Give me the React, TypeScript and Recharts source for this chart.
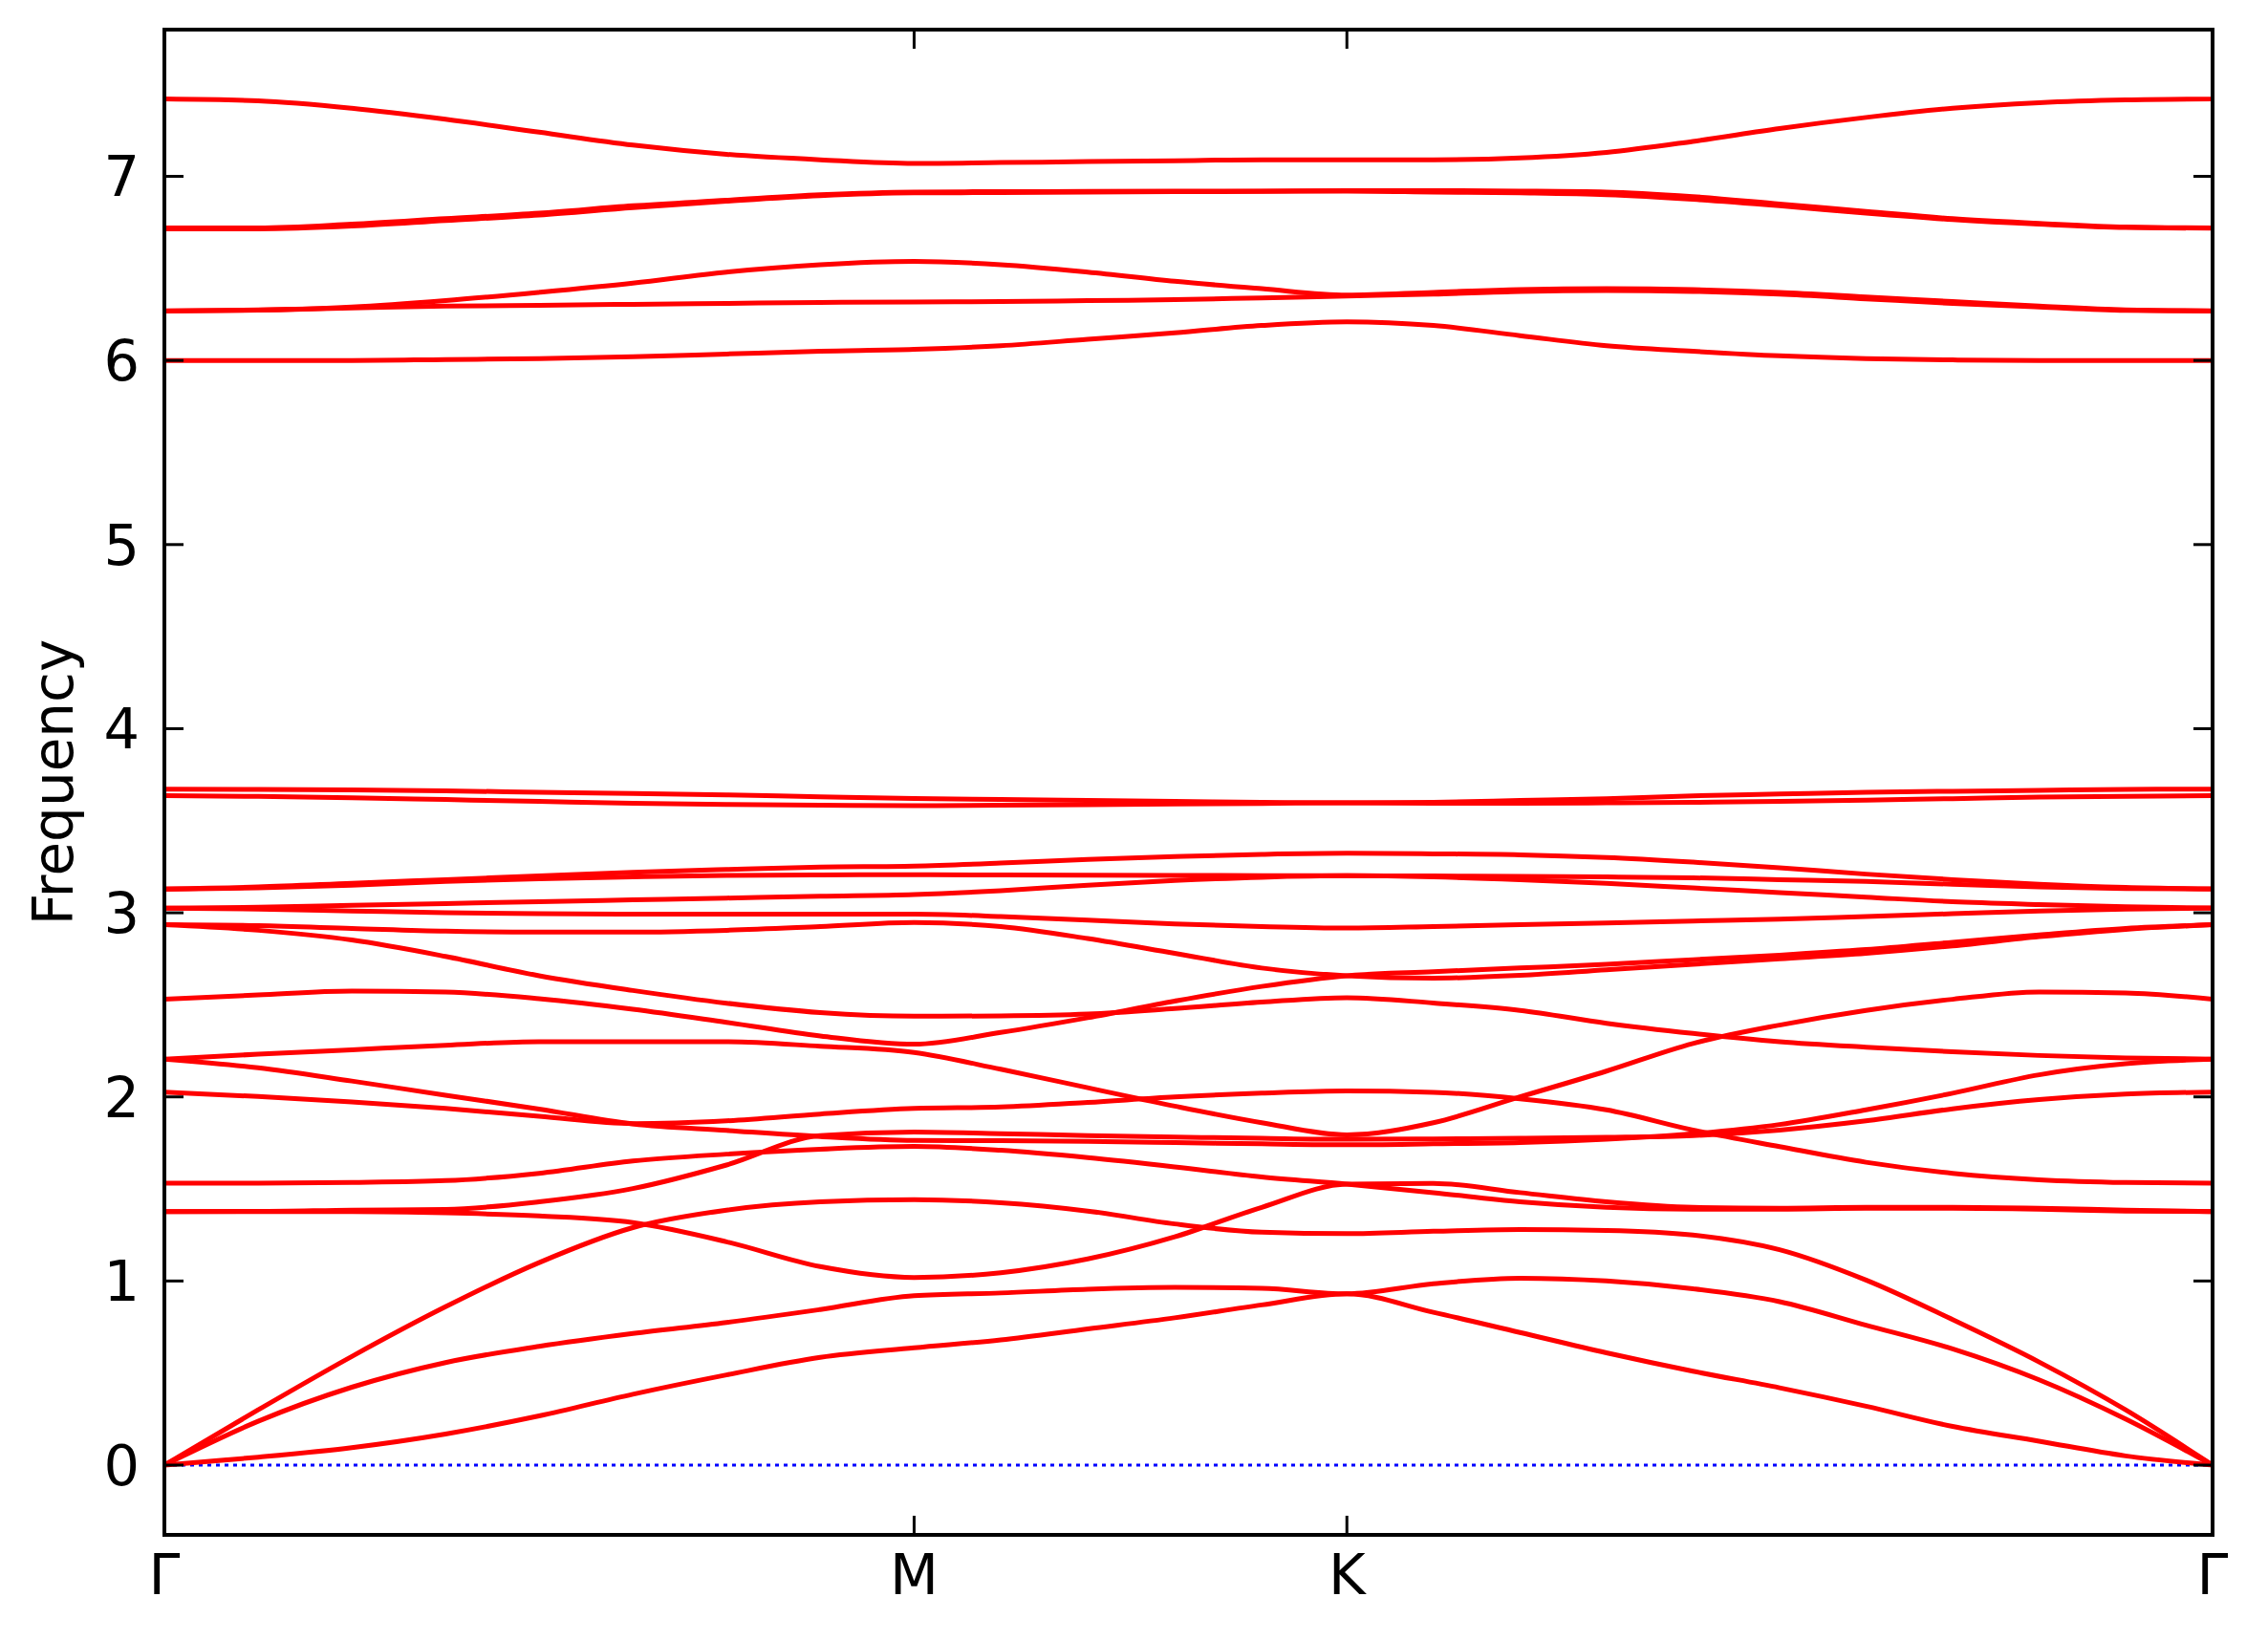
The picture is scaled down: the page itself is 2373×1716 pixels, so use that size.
import { Line, LineChart, ReferenceLine, XAxis, YAxis } from "recharts"

// distance along the Γ–M–K–Γ path
const kDist = [
  0, 0.0722, 0.1443, 0.2165, 0.2886, 0.3608, 0.4329, 0.5051, 0.5774,
  0.6441, 0.7111, 0.7781, 0.8451, 0.9107,
  0.9773, 1.044, 1.1106, 1.1772, 1.2439, 1.3105, 1.3772, 1.4438, 1.5104, 1.5774,
]
const kTicks = [0, 0.5774, 0.9107, 1.5774]
const kLabels = ["Γ", "M", "K", "Γ"]
const freqTicks = [0, 1, 2, 3, 4, 5, 6, 7]

// acoustic branches
const band01 = [0, 0.043, 0.095, 0.169, 0.267, 0.385, 0.49, 0.585, 0.637, 0.68, 0.74, 0.8, 0.87, 0.93, 0.83, 0.72, 0.61, 0.51, 0.42, 0.32, 0.21, 0.13, 0.05, 0]
const band02 = [0, 0.238, 0.423, 0.557, 0.645, 0.715, 0.775, 0.845, 0.92, 0.935, 0.955, 0.965, 0.96, 0.93, 0.985, 1.015, 1.0, 0.958, 0.888, 0.76, 0.631, 0.463, 0.25, 0]
const band03 = [0, 0.3, 0.59, 0.86, 1.1, 1.29, 1.385, 1.43, 1.442, 1.425, 1.38, 1.31, 1.265, 1.257, 1.27, 1.28, 1.275, 1.25, 1.17, 1.005, 0.79, 0.56, 0.3, 0]
// low optical branches
const band04 = [1.377, 1.377, 1.377, 1.37, 1.353, 1.317, 1.213, 1.078, 1.019, 1.045, 1.12, 1.24, 1.4, 1.526, 1.53, 1.48, 1.43, 1.4, 1.395, 1.4, 1.4, 1.395, 1.385, 1.377]
const band05 = [1.377, 1.378, 1.385, 1.389, 1.43, 1.502, 1.63, 1.79, 1.809, 1.8, 1.79, 1.782, 1.775, 1.77, 1.772, 1.775, 1.78, 1.79, 1.82, 1.87, 1.935, 1.985, 2.015, 2.026]
const band06 = [1.531, 1.531, 1.535, 1.545, 1.585, 1.652, 1.689, 1.716, 1.731, 1.71, 1.67, 1.62, 1.565, 1.526, 1.48, 1.43, 1.4, 1.39, 1.39, 1.395, 1.395, 1.39, 1.38, 1.377]
const band07 = [2.026, 2.002, 1.973, 1.937, 1.895, 1.855, 1.87, 1.907, 1.937, 1.945, 1.97, 2.0, 2.02, 2.032, 2.025, 1.99, 1.93, 1.82, 1.73, 1.645, 1.585, 1.55, 1.535, 1.531]
const band08 = [2.205, 2.158, 2.086, 2.009, 1.934, 1.853, 1.818, 1.785, 1.764, 1.762, 1.758, 1.752, 1.745, 1.74, 1.745, 1.752, 1.77, 1.8, 1.85, 1.93, 2.02, 2.12, 2.18, 2.205]
const band09 = [2.205, 2.232, 2.256, 2.28, 2.3, 2.3, 2.3, 2.275, 2.241, 2.15, 2.05, 1.95, 1.86, 1.794, 1.86, 2.0, 2.14, 2.29, 2.39, 2.47, 2.53, 2.57, 2.565, 2.53]
const band10 = [2.53, 2.554, 2.575, 2.569, 2.533, 2.476, 2.405, 2.331, 2.286, 2.35, 2.43, 2.52, 2.6, 2.658, 2.68, 2.7, 2.72, 2.745, 2.77, 2.8, 2.84, 2.88, 2.915, 2.935]
const band11 = [2.935, 2.905, 2.852, 2.763, 2.658, 2.578, 2.509, 2.458, 2.438, 2.44, 2.45, 2.48, 2.515, 2.539, 2.51, 2.47, 2.4, 2.345, 2.3, 2.27, 2.245, 2.225, 2.212, 2.205]
const band12 = [2.935, 2.93, 2.915, 2.9, 2.895, 2.895, 2.905, 2.925, 2.947, 2.925, 2.86, 2.78, 2.7, 2.658, 2.645, 2.66, 2.69, 2.72, 2.75, 2.78, 2.82, 2.87, 2.91, 2.935]
const band13 = [3.025, 3.02, 3.01, 3.0, 2.995, 2.993, 2.992, 2.992, 2.992, 2.98, 2.96, 2.94, 2.925, 2.917, 2.925, 2.935, 2.945, 2.955, 2.965, 2.98, 2.995, 3.01, 3.02, 3.025]
const band14 = [3.025, 3.03, 3.04, 3.05, 3.06, 3.07, 3.08, 3.09, 3.099, 3.12, 3.15, 3.175, 3.193, 3.201, 3.195, 3.18, 3.16, 3.135, 3.11, 3.085, 3.06, 3.045, 3.033, 3.026]
const band15 = [3.128, 3.135, 3.15, 3.17, 3.185, 3.195, 3.203, 3.206, 3.207, 3.205, 3.204, 3.203, 3.202, 3.201, 3.2, 3.198, 3.195, 3.19, 3.18, 3.17, 3.155, 3.14, 3.132, 3.129]
const band16 = [3.13, 3.14, 3.16, 3.18, 3.2, 3.22, 3.235, 3.248, 3.254, 3.27, 3.29, 3.305, 3.317, 3.323, 3.32, 3.315, 3.3, 3.275, 3.245, 3.21, 3.18, 3.155, 3.138, 3.13]
const band17 = [3.636, 3.632, 3.625, 3.615, 3.605, 3.595, 3.588, 3.584, 3.582, 3.584, 3.587, 3.591, 3.594, 3.597, 3.595, 3.595, 3.597, 3.6, 3.605, 3.612, 3.62, 3.628, 3.633, 3.636]
const band18 = [3.672, 3.67, 3.667, 3.662, 3.655, 3.648, 3.64, 3.63, 3.621, 3.615, 3.61, 3.605, 3.6, 3.597, 3.6, 3.61, 3.62, 3.635, 3.645, 3.655, 3.66, 3.665, 3.67, 3.672]
// high optical branches
const band19 = [6.0, 6.0, 6.0, 6.005, 6.01, 6.02, 6.035, 6.05, 6.06, 6.08, 6.115, 6.15, 6.19, 6.21, 6.19, 6.135, 6.08, 6.05, 6.025, 6.01, 6.003, 6.0, 6.0, 6.0]
const band20 = [6.268, 6.275, 6.285, 6.295, 6.3, 6.305, 6.31, 6.315, 6.318, 6.32, 6.325, 6.33, 6.34, 6.35, 6.36, 6.375, 6.38, 6.375, 6.36, 6.335, 6.31, 6.29, 6.272, 6.268]
const band21 = [6.27, 6.273, 6.29, 6.325, 6.37, 6.42, 6.48, 6.52, 6.538, 6.52, 6.48, 6.43, 6.39, 6.355, 6.37, 6.385, 6.39, 6.385, 6.37, 6.345, 6.32, 6.295, 6.275, 6.27]
const band22 = [6.715, 6.715, 6.73, 6.76, 6.79, 6.83, 6.865, 6.895, 6.91, 6.912, 6.915, 6.917, 6.918, 6.92, 6.915, 6.91, 6.9, 6.875, 6.84, 6.8, 6.765, 6.74, 6.722, 6.718]
const band23 = [6.72, 6.72, 6.74, 6.77, 6.8, 6.84, 6.87, 6.9, 6.915, 6.917, 6.918, 6.92, 6.92, 6.922, 6.922, 6.92, 6.915, 6.89, 6.85, 6.81, 6.77, 6.745, 6.725, 6.72]
const band24 = [7.42, 7.41, 7.37, 7.31, 7.24, 7.17, 7.12, 7.09, 7.07, 7.075, 7.08, 7.085, 7.09, 7.09, 7.09, 7.1, 7.13, 7.19, 7.26, 7.32, 7.37, 7.4, 7.415, 7.42]

const bands = [
  band01, band02, band03, band04, band05, band06, band07, band08,
  band09, band10, band11, band12, band13, band14, band15, band16,
  band17, band18, band19, band20, band21, band22, band23, band24,
]

const data = kDist.map((k, i) => {
  const row: Record<string, number> = { k }
  bands.forEach((b, j) => {
    row[`b${j}`] = b[i]
  })
  return row
})

const font = "DejaVu Sans"
const fontSize = 59
const tickLen = 20
const labelGapX = 20
const labelGapY = 26
const frame = { stroke: "#000", strokeWidth: 4, strokeLinecap: "square" as const }
const yDomain = [-0.379, 7.797]
const xDomain = [0, 1.5774]

const kLabel = (v: number) => {
  const i = kTicks.findIndex((t) => Math.abs(t - v) < 1e-6)
  return i >= 0 ? kLabels[i] : ""
}

// ticks point into the plot, like matplotlib's direction="in"
const BottomTick = ({ x, y, payload }: any) => (
  <g>
    <line x1={x} x2={x} y1={y - labelGapX} y2={y - labelGapX - tickLen} stroke="#000" strokeWidth={3} />
    <text x={x} y={y} dy="0.71em" textAnchor="middle" fill="#000" fontSize={fontSize} fontFamily={font}>
      {kLabel(payload.value)}
    </text>
  </g>
)

const LeftTick = ({ x, y, payload }: any) => (
  <g>
    <line x1={x + labelGapY} x2={x + labelGapY + tickLen} y1={y} y2={y} stroke="#000" strokeWidth={3} />
    <text x={x} y={y} dy="0.355em" textAnchor="end" fill="#000" fontSize={fontSize} fontFamily={font}>
      {payload.value}
    </text>
  </g>
)

const TopTick = ({ x, y }: any) => (
  <line x1={x} x2={x} y1={y} y2={y + tickLen} stroke="#000" strokeWidth={3} />
)

const RightTick = ({ x, y }: any) => (
  <line x1={x} x2={x - tickLen} y1={y} y2={y} stroke="#000" strokeWidth={3} />
)

export default function App() {
  return (
    <div style={{ position: "absolute", left: 0, top: 0, background: "#fff" }}>
      <LineChart
        width={2373}
        height={1716}
        data={data}
        margin={{ top: 30, right: 57, bottom: 0, left: 0 }}
      >
        <XAxis
          xAxisId="bottom"
          dataKey="k"
          type="number"
          domain={xDomain}
          ticks={kTicks}
          interval={0}
          allowDataOverflow
          height={110}
          tick={<BottomTick />}
          tickSize={0}
          tickMargin={labelGapX}
          axisLine={frame}
          tickLine={false}
        />
        <XAxis
          xAxisId="top"
          orientation="top"
          dataKey="k"
          type="number"
          domain={xDomain}
          ticks={kTicks}
          interval={0}
          allowDataOverflow
          height={1}
          tick={<TopTick />}
          tickSize={0}
          tickMargin={0}
          axisLine={frame}
          tickLine={false}
        />
        <YAxis
          yAxisId="left"
          type="number"
          domain={yDomain}
          ticks={freqTicks}
          interval={0}
          allowDataOverflow
          width={172}
          tick={<LeftTick />}
          tickSize={0}
          tickMargin={labelGapY}
          axisLine={frame}
          tickLine={false}
          label={{
            value: "Frequency",
            angle: -90,
            position: "center",
            dx: -31,
            fill: "#000",
            fontSize: 58,
            fontFamily: font,
          }}
        />
        <YAxis
          yAxisId="right"
          orientation="right"
          type="number"
          domain={yDomain}
          ticks={freqTicks}
          interval={0}
          allowDataOverflow
          width={1}
          tick={<RightTick />}
          tickSize={0}
          tickMargin={0}
          axisLine={frame}
          tickLine={false}
        />
        <ReferenceLine
          xAxisId="bottom"
          yAxisId="left"
          y={0}
          stroke="#0000ff"
          strokeWidth={3}
          strokeDasharray="4 5"
        />
        {bands.map((_, j) => (
          <Line
            key={j}
            xAxisId="bottom"
            yAxisId="left"
            dataKey={`b${j}`}
            type="monotone"
            stroke="#ff0000"
            strokeWidth={5}
            dot={false}
            activeDot={false}
            isAnimationActive={false}
          />
        ))}
      </LineChart>
    </div>
  )
}
